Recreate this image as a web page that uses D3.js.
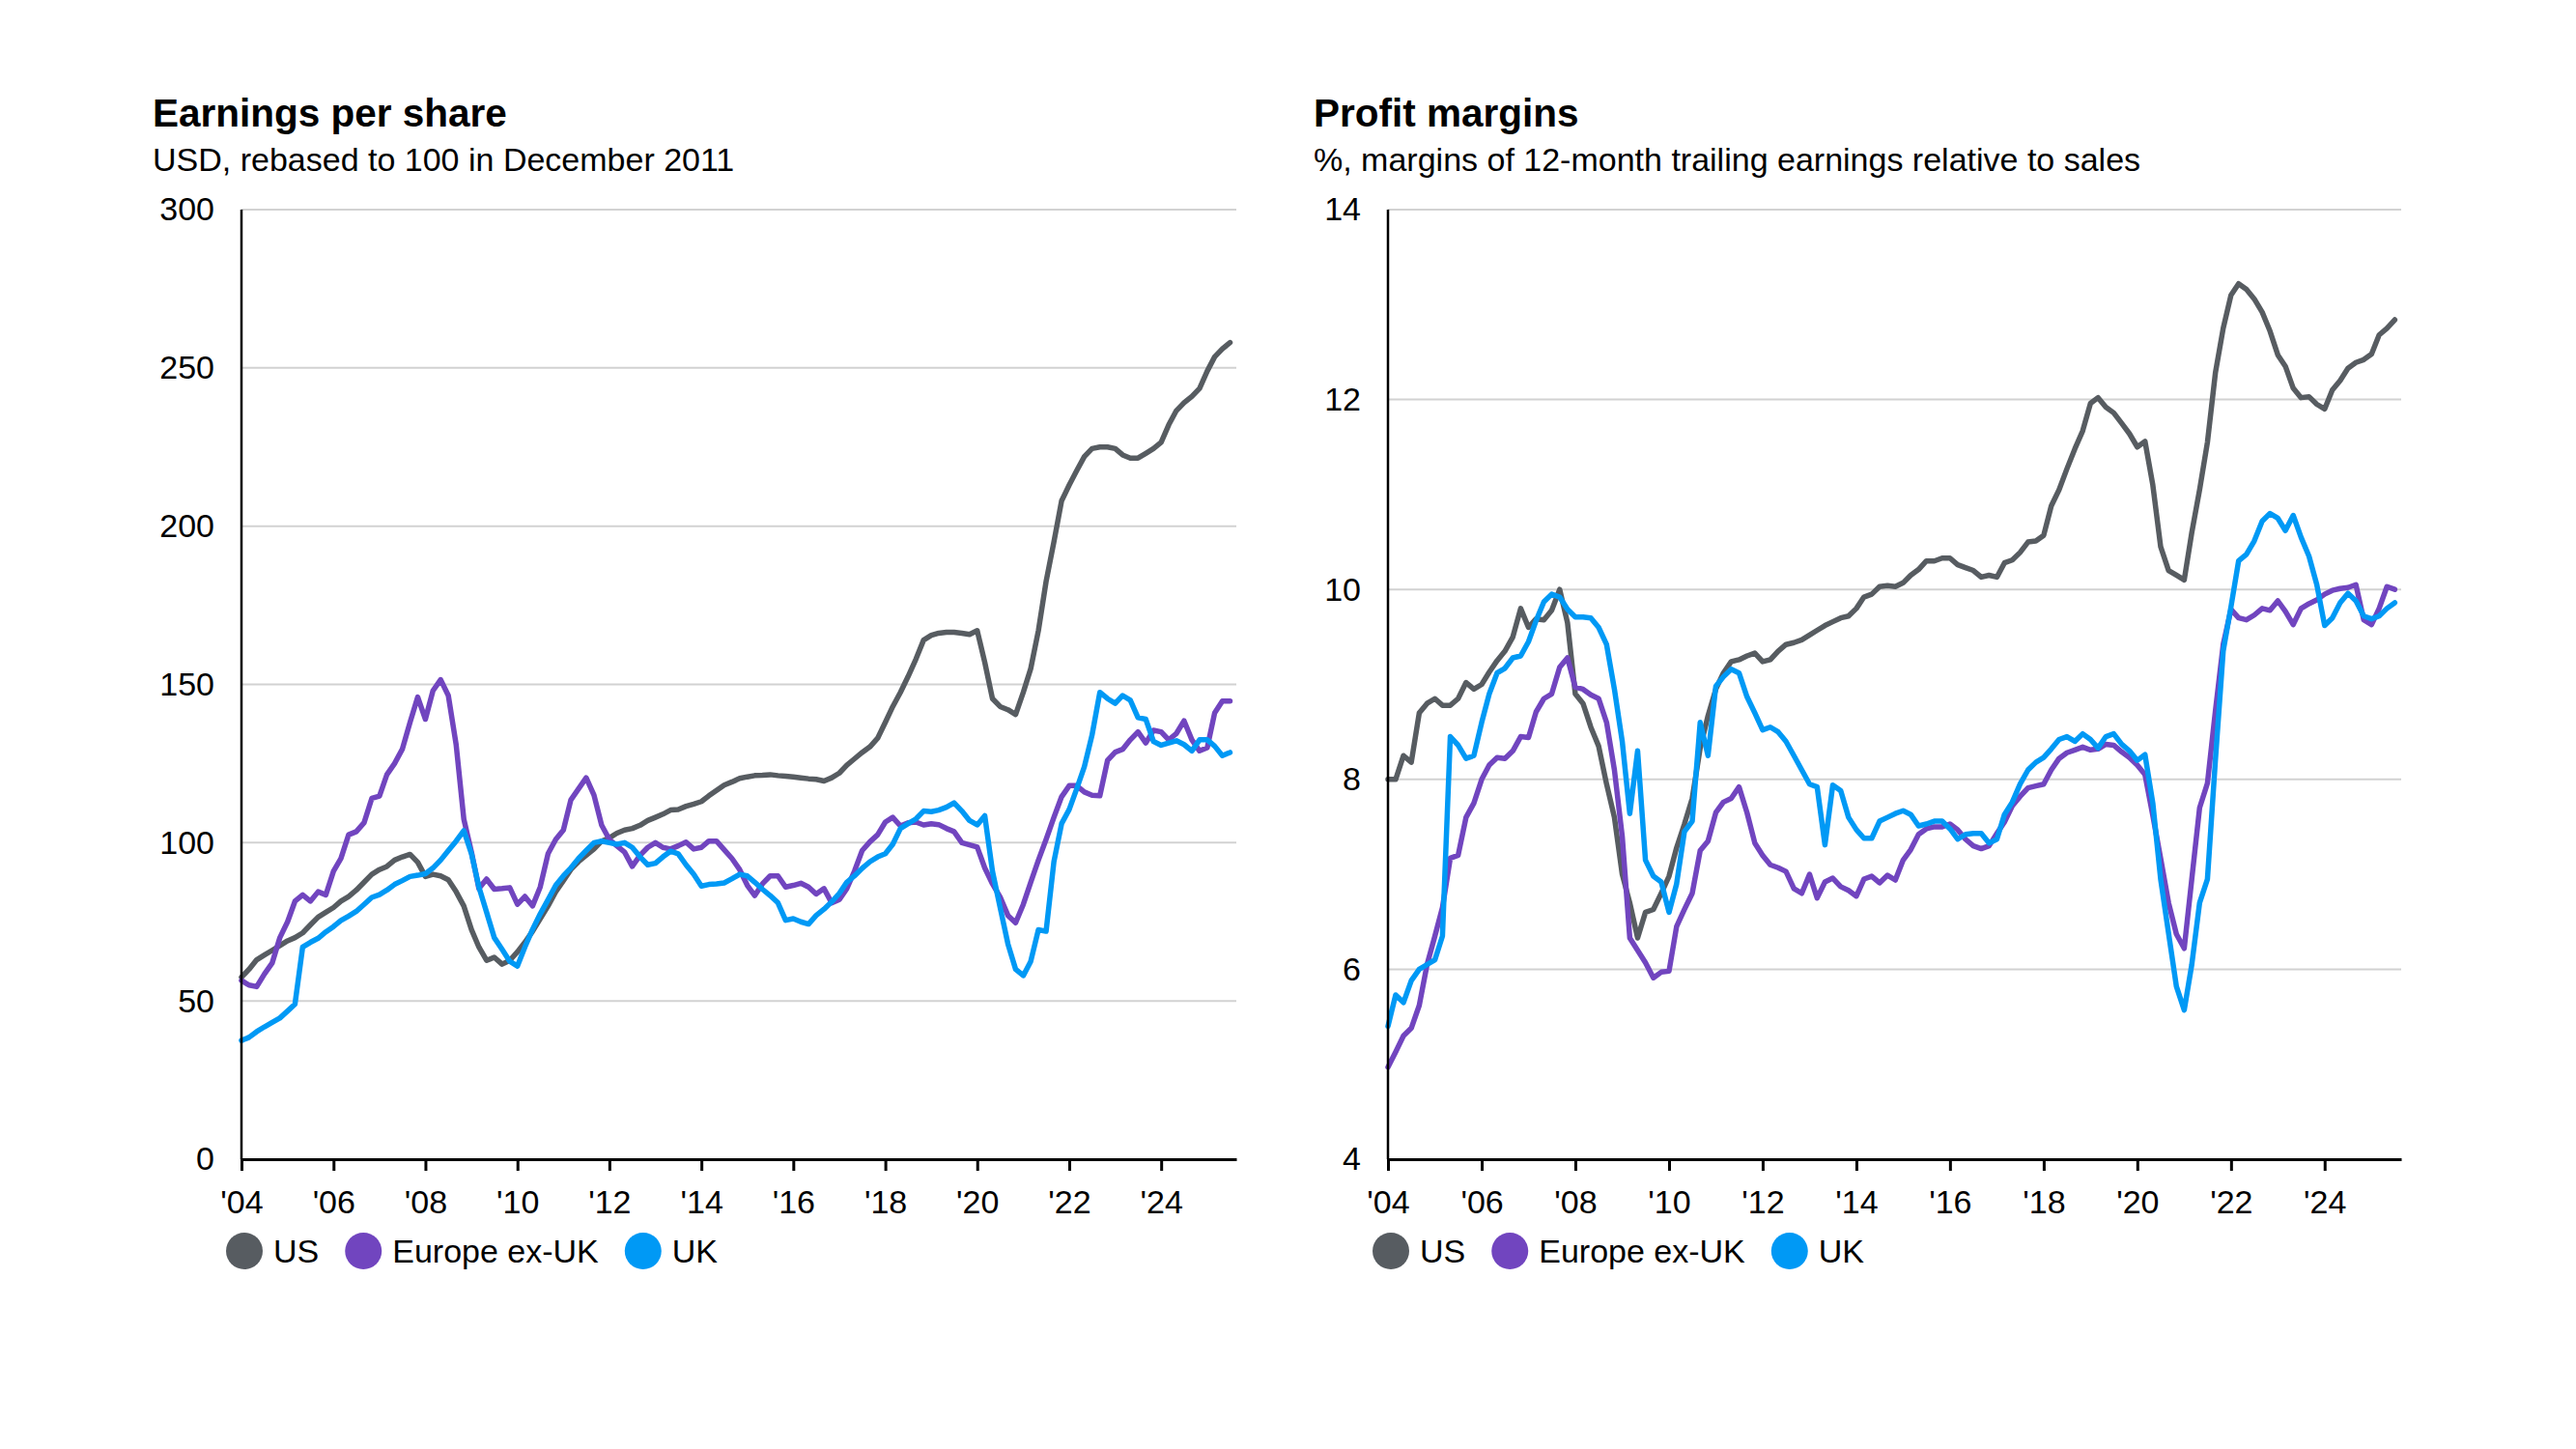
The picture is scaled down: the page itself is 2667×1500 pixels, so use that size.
<!DOCTYPE html>
<html>
<head>
<meta charset="utf-8">
<script src="https://cdn.jsdelivr.net/npm/d3@7"></script>
<style>
  body { margin: 0; background: #fff; }
  svg text { font-family: "Liberation Sans", Arial, sans-serif; fill: #000; }
</style>
</head>
<body>
<svg id="chart" width="2667" height="1500"></svg>
<script>
// bimonthly observations, Jan 2004 .. Jul 2025
const dates = d3.timeMonth.every(2).range(new Date(2004, 0, 1), new Date(2025, 8, 1));

const seriesNames = ["US", "Europe ex-UK", "UK"];
const seriesColors = ["#575c61", "#7145bf", "#0099f5"];

const xTickYears = [2004, 2006, 2008, 2010, 2012, 2014, 2016, 2018, 2020, 2022, 2024];
const epsTicks = [0, 50, 100, 150, 200, 250, 300];
const marginTicks = [4, 6, 8, 10, 12, 14];

// Earnings per share, USD, Dec 2011 = 100
const epsUS = [
  57.5, 60, 63, 64.5, 66, 67.5,
  69, 70, 71.5, 74, 76.5, 78,
  79.5, 81.5, 83, 85, 87.5, 90,
  91.5, 92.5, 94.5, 95.5, 96.3, 93.8,
  89.3, 90, 89.5, 88.3, 84.5, 80,
  72.5, 67, 62.8, 63.8, 61.6, 62.8,
  65.5, 68.5, 72, 76, 80, 84.5,
  88, 91.5, 94, 96, 98, 100.5,
  101.5, 103, 104, 104.5, 105.5, 107,
  108, 109, 110.3, 110.5, 111.5, 112.2,
  113, 114.8, 116.5, 118.2, 119.2, 120.3,
  120.8, 121.2, 121.3, 121.5, 121.2, 121,
  120.8, 120.5, 120.2, 120, 119.5, 120.5,
  122, 124.5, 126.5, 128.5, 130.3, 133,
  138, 143, 147.5, 152.5, 158, 164,
  165.5, 166.2, 166.5, 166.5, 166.2, 165.8,
  167, 157, 145.5, 143, 142, 140.5,
  147.5, 155, 167, 182.5, 195, 208,
  213, 217.5, 222, 224.5, 225, 225,
  224.5, 222.5, 221.5, 221.5, 223, 224.5,
  226.5, 232, 236.5, 239, 241, 243.5,
  249, 253.5, 256, 258
];
const epsEurope = [
  56.5, 55, 54.5, 58.5, 62, 70,
  75, 81.5, 83.5, 81.5, 84.5, 83.5,
  91, 95, 102.5, 103.5, 106.3, 114,
  114.7, 121.5, 125, 129.5, 138, 146,
  139, 148, 151.5, 146.5, 131, 107.5,
  97, 85.5, 88.5, 85.3, 85.5, 85.8,
  80.5, 83, 80, 86, 96.5, 101,
  104, 113.5, 117, 120.5, 115, 105.5,
  101, 99, 97, 92.5, 96, 98.5,
  100, 98.5, 98, 99, 100.2, 98,
  98.5, 100.5, 100.5, 97.8, 95, 91.5,
  86.5, 83.3, 87, 89.5, 89.5, 86,
  86.5, 87.2, 86, 83.8, 85.5, 81,
  82, 85.5, 91, 97.5, 100.3, 102.5,
  106.5, 108, 105.3, 106.3, 106.5, 105.6,
  106, 105.7, 104.5, 103.5, 100, 99.3,
  98.6, 92, 87, 82.8, 77, 74.7,
  80.5, 87.5, 94.5, 101, 108, 114.5,
  118, 118, 116, 115, 114.8, 126,
  128.6, 129.5, 132.5, 135, 131.5, 135.5,
  135, 132.5, 134.5, 138.5, 132.5, 129,
  130, 141, 144.7, 144.7
];
const epsUK = [
  37.5, 38.5, 40.3, 41.8, 43.2, 44.6,
  46.8, 49, 67, 68.5, 69.8, 71.8,
  73.5, 75.4, 76.8, 78.3, 80.5, 82.7,
  83.6, 85, 86.8, 88, 89.3, 89.7,
  90.2, 92, 94.5, 97.5, 100.5, 103.8,
  96.5, 86, 78, 70, 66.3, 62.5,
  61, 67, 72.6, 77.5, 82, 86.5,
  89.5, 92, 95, 97.5, 100, 100.5,
  100, 99.5, 100, 98.5, 95.5, 93,
  93.5, 95.5, 97.3, 96.5, 93, 90,
  86.3, 86.8, 87, 87.3, 88.6, 90,
  89.5, 87.5, 85.3, 83.3, 81, 75.5,
  76, 75, 74.3, 77, 79, 81.3,
  84, 87.5, 89.5, 91.9, 94, 95.5,
  96.5, 99.5, 104.5, 106, 107.5, 110,
  109.8, 110.3, 111.2, 112.6, 110, 107,
  105.6, 108.5, 91, 79.5, 68, 60,
  58, 62.5, 72.5, 72, 94, 106,
  110.5, 117, 124, 134, 147.5, 145.5,
  144, 146.5, 145, 139.5, 139, 132,
  130.8, 131.5, 132.2, 131, 129, 132.5,
  132.5, 130.5, 127.5, 128.5
];

// Profit margins, %
const marginUS = [
  8.0, 8.0, 8.25, 8.18, 8.7, 8.8,
  8.85, 8.78, 8.78, 8.85, 9.02, 8.95,
  9.0, 9.13, 9.25, 9.35, 9.5, 9.8,
  9.6, 9.69, 9.68, 9.78, 10.0, 9.65,
  8.9, 8.8, 8.55, 8.35, 7.95, 7.6,
  7.0, 6.7, 6.33, 6.6, 6.63, 6.8,
  6.98, 7.28, 7.53, 7.8, 8.33, 8.67,
  8.95, 9.12, 9.24, 9.26, 9.3, 9.33,
  9.24, 9.26, 9.35, 9.42, 9.44, 9.47,
  9.52, 9.57, 9.62, 9.66, 9.7, 9.72,
  9.8, 9.92, 9.95, 10.03, 10.04, 10.03,
  10.07, 10.15, 10.21, 10.3, 10.3, 10.33,
  10.33, 10.26, 10.23, 10.2, 10.13, 10.15,
  10.13, 10.28, 10.31, 10.39, 10.5, 10.51,
  10.57, 10.88, 11.05, 11.27, 11.48, 11.67,
  11.96, 12.02, 11.92, 11.86, 11.75, 11.64,
  11.5, 11.56, 11.1, 10.45, 10.2, 10.15,
  10.1, 10.6, 11.05, 11.55, 12.28, 12.75,
  13.1, 13.22, 13.16, 13.06, 12.92, 12.72,
  12.47, 12.35, 12.12, 12.02, 12.03, 11.95,
  11.9, 12.1, 12.2, 12.33, 12.39, 12.42,
  12.48, 12.68, 12.75, 12.84
];
const marginEurope = [
  4.97, 5.13, 5.3, 5.38, 5.62, 6.05,
  6.35, 6.65, 7.17, 7.2, 7.6, 7.75,
  8.0, 8.15, 8.23, 8.22, 8.3, 8.45,
  8.44, 8.71, 8.85, 8.9, 9.18, 9.28,
  8.97, 8.95, 8.89, 8.85, 8.6, 8.1,
  7.4, 6.33, 6.2, 6.07, 5.91, 5.97,
  5.98, 6.45, 6.63, 6.8, 7.25, 7.35,
  7.65, 7.76, 7.8, 7.92, 7.65, 7.33,
  7.2, 7.1, 7.07, 7.03, 6.85, 6.8,
  7.0, 6.75, 6.92, 6.96, 6.87, 6.83,
  6.77, 6.95, 6.98, 6.91, 6.99, 6.94,
  7.15, 7.26, 7.42, 7.48, 7.5, 7.5,
  7.53, 7.47, 7.37, 7.3, 7.27, 7.3,
  7.43, 7.55, 7.72, 7.82, 7.91, 7.93,
  7.95, 8.1, 8.22, 8.28, 8.31, 8.34,
  8.31, 8.32, 8.37, 8.36, 8.29, 8.23,
  8.15, 8.05, 7.62, 7.17, 6.7, 6.37,
  6.22, 6.95, 7.7, 7.96, 8.72, 9.42,
  9.79, 9.7, 9.68, 9.73, 9.8, 9.78,
  9.88, 9.77, 9.63, 9.8, 9.85, 9.89,
  9.95, 9.99, 10.01, 10.02, 10.05, 9.68,
  9.63, 9.8, 10.03, 10.0
];
const marginUK = [
  5.4, 5.73, 5.65, 5.88, 6.0, 6.05,
  6.1, 6.35, 8.45, 8.36, 8.22, 8.25,
  8.6, 8.9, 9.12, 9.17, 9.28, 9.3,
  9.45, 9.67, 9.87, 9.95, 9.92, 9.79,
  9.71, 9.71, 9.7, 9.6, 9.42, 8.95,
  8.4, 7.64, 8.3, 7.15, 6.98, 6.92,
  6.6, 6.9, 7.45, 7.56, 8.6, 8.25,
  8.98, 9.08, 9.16, 9.12, 8.87, 8.7,
  8.52, 8.55, 8.5, 8.4, 8.25, 8.1,
  7.95, 7.92, 7.31, 7.94, 7.88, 7.6,
  7.47, 7.38, 7.38, 7.56, 7.6, 7.64,
  7.67, 7.63, 7.51, 7.53, 7.56, 7.56,
  7.48, 7.37, 7.42, 7.43, 7.43, 7.33,
  7.37, 7.63, 7.76, 7.95, 8.1, 8.18,
  8.23, 8.32, 8.42, 8.45, 8.4, 8.48,
  8.42, 8.33, 8.45, 8.48, 8.37, 8.3,
  8.2, 8.26, 7.75, 6.95, 6.38, 5.82,
  5.57, 6.05, 6.7, 6.95, 8.2, 9.35,
  9.82, 10.3, 10.37, 10.51, 10.72, 10.8,
  10.75, 10.62, 10.78, 10.55, 10.35, 10.05,
  9.62, 9.7, 9.86, 9.96, 9.88, 9.72,
  9.69, 9.72, 9.8, 9.86
];

const panels = [
  {
    title: "Earnings per share",
    subtitle: "USD, rebased to 100 in December 2011",
    left: 250, right: 1280, titleX: 158,
    yDomain: [0, 300], yTicks: epsTicks,
    series: [epsUS, epsEurope, epsUK]
  },
  {
    title: "Profit margins",
    subtitle: "%, margins of 12-month trailing earnings relative to sales",
    left: 1437, right: 2486, titleX: 1360,
    yDomain: [4, 14], yTicks: marginTicks,
    series: [marginUS, marginEurope, marginUK]
  }
];

const plotTop = 217, plotBottom = 1200;
const svg = d3.select("#chart");

panels.forEach(p => {
  const g = svg.append("g");

  const x = d3.scaleTime()
    .domain([new Date(2004, 0, 1), new Date(2025, 7, 20)])
    .range([p.left, p.right]);
  const y = d3.scaleLinear().domain(p.yDomain).range([plotBottom, plotTop]);

  g.append("text")
    .attr("x", p.titleX).attr("y", 131)
    .style("font-size", "40.5px").style("font-weight", "bold")
    .text(p.title);
  g.append("text")
    .attr("x", p.titleX).attr("y", 177)
    .style("font-size", "34px")
    .text(p.subtitle);

  // gridlines
  g.append("g").selectAll("line")
    .data(p.yTicks.slice(1))
    .join("line")
    .attr("x1", p.left).attr("x2", p.right)
    .attr("y1", d => y(d)).attr("y2", d => y(d))
    .attr("stroke", "#d2d2d2").attr("stroke-width", 2);

  // y labels
  const yAxis = g.append("g")
    .attr("transform", `translate(${p.left},0)`)
    .call(d3.axisLeft(y).tickValues(p.yTicks).tickSize(0).tickPadding(28));
  yAxis.select(".domain").remove();
  yAxis.selectAll("text").style("font-size", "34px").attr("fill", "#000");

  // lines
  p.series.forEach((vals, i) => {
    const line = d3.line()
      .x((d, j) => x(dates[j]))
      .y(d => y(d));
    g.append("path")
      .datum(vals)
      .attr("d", line)
      .attr("fill", "none")
      .attr("stroke", seriesColors[i])
      .attr("stroke-width", 5.5)
      .attr("stroke-linejoin", "round")
      .attr("stroke-linecap", "round");
  });

  // axes lines
  g.append("line")
    .attr("x1", p.left).attr("x2", p.left)
    .attr("y1", plotTop).attr("y2", plotBottom)
    .attr("stroke", "#000").attr("stroke-width", 2.5);

  const xAxis = g.append("g")
    .attr("transform", `translate(0,${plotBottom})`)
    .call(d3.axisBottom(x)
      .tickValues(xTickYears.map(yr => new Date(yr, 0, 1)))
      .tickSize(12).tickSizeOuter(0).tickPadding(20)
      .tickFormat(d => "'" + d3.timeFormat("%y")(d)));
  xAxis.select(".domain").attr("stroke", "#000").attr("stroke-width", 3);
  xAxis.selectAll(".tick line").attr("stroke", "#000").attr("stroke-width", 3);
  xAxis.selectAll("text").style("font-size", "34px").attr("fill", "#000");

  // legend
  const legend = g.append("g").attr("transform", `translate(${p.left + 3},1295)`);
  let cx = 0;
  seriesNames.forEach((name, i) => {
    legend.append("circle")
      .attr("cx", cx).attr("cy", 0).attr("r", 19)
      .attr("fill", seriesColors[i]);
    const t = legend.append("text")
      .attr("x", cx + 30).attr("y", 0).attr("dy", "0.36em")
      .style("font-size", "34px")
      .text(name);
    cx += 30 + t.node().getComputedTextLength() + 46;
  });
});
</script>
</body>
</html>
